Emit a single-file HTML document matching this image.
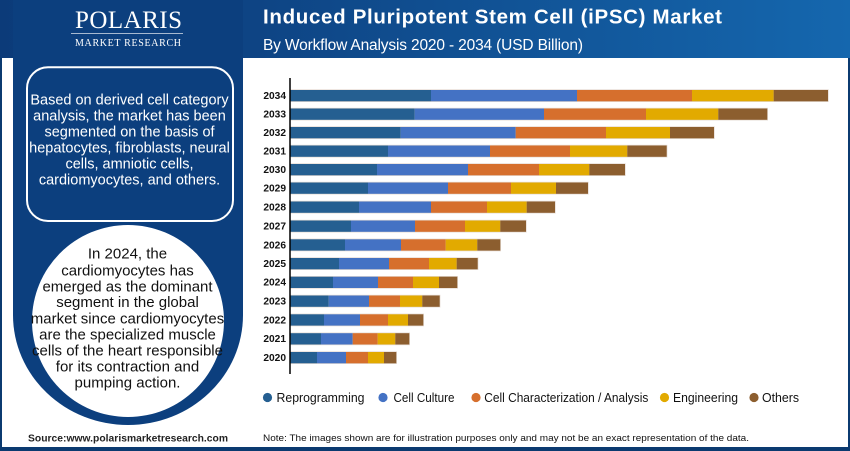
<!DOCTYPE html>
<html><head><meta charset="utf-8"><style>
html,body{margin:0;padding:0;background:#fff;}
svg{display:block;}
</style></head><body>
<svg width="850" height="451" viewBox="0 0 850 451" xmlns="http://www.w3.org/2000/svg">
<defs>
<linearGradient id="hg" x1="0" y1="0" x2="1" y2="0">
<stop offset="0" stop-color="#0c3b79"/>
<stop offset="0.3" stop-color="#0e4484"/>
<stop offset="1" stop-color="#1567ae"/>
</linearGradient>
</defs>
<rect x="0" y="0" width="850" height="451" fill="#0b3a70"/>
<rect x="2" y="2" width="846" height="445" fill="#fff"/>
<rect x="0" y="0" width="850" height="58" fill="url(#hg)"/>
<path d="M13,0 H243 V315 A115,110 0 0 1 128,425 A115,110 0 0 1 13,315 Z" fill="#0c3f7e"/>
<text x="75" y="28" font-family="Liberation Serif, serif" font-size="25" fill="#fff" textLength="107" lengthAdjust="spacing">POLARIS</text>
<line x1="71" y1="33.5" x2="183" y2="33.5" stroke="#fff" stroke-width="0.8" opacity="0.85"/>
<text x="75" y="46" font-family="Liberation Serif, serif" font-size="10" fill="#fff" textLength="106" lengthAdjust="spacing">MARKET RESEARCH</text>
<text x="263" y="23.3" font-family="Liberation Sans, sans-serif" font-weight="bold" font-size="20.5" fill="#fff" textLength="459" lengthAdjust="spacing">Induced Pluripotent Stem Cell (iPSC) Market</text>
<text x="263" y="50" font-family="Liberation Sans, sans-serif" font-size="15.5" fill="#fff" textLength="320" lengthAdjust="spacing">By Workflow Analysis 2020 - 2034 (USD Billion)</text>
<rect x="27" y="67.3" width="206" height="153.7" rx="21" ry="21" fill="none" stroke="#fff" stroke-width="2"/>
<g font-family="Liberation Sans, sans-serif" font-size="14.5" fill="#fff" text-anchor="middle">
<text x="129.5" y="104.5">Based on derived cell category</text>
<text x="129.5" y="120.5">analysis, the market has been</text>
<text x="129.5" y="136.5">segmented on the basis of</text>
<text x="129.5" y="152.5">hepatocytes, fibroblasts, neural</text>
<text x="129.5" y="168.5">cells, amniotic cells,</text>
<text x="129.5" y="184.5">cardiomyocytes, and others.</text>
</g>
<circle cx="128" cy="321" r="96" fill="#fff"/>
<g font-family="Liberation Sans, sans-serif" font-size="15" fill="#111" text-anchor="middle">
<text x="127.5" y="258.6">In 2024, the</text>
<text x="127.5" y="275.3">cardiomyocytes has</text>
<text x="127.5" y="291.3">emerged as the dominant</text>
<text x="127.5" y="307">segment in the global</text>
<text x="127.5" y="323.6">market since cardiomyocytes</text>
<text x="127.5" y="339.6">are the specialized muscle</text>
<text x="127.5" y="355.3">cells of the heart responsible</text>
<text x="127.5" y="371.3">for its contraction and</text>
<text x="127.5" y="387.6">pumping action.</text>
</g>
<text x="28" y="441.7" font-family="Liberation Sans, sans-serif" font-weight="bold" font-size="10.3" fill="#222" textLength="200" lengthAdjust="spacing">Source:www.polarismarketresearch.com</text>

<g id="bars">
<!-- 2034 -->
<rect x="289.5" y="89.3" width="539.2" height="12.7" fill="#e6dcd4"/>
<rect x="290" y="90" width="141" height="11.3" fill="#255f91"/><rect x="431" y="90" width="146" height="11.3" fill="#4472c4"/><rect x="577" y="90" width="115" height="11.3" fill="#d66f2d"/><rect x="692" y="90" width="81.7" height="11.3" fill="#e2aa00"/><rect x="773.7" y="90" width="54.3" height="11.3" fill="#8c5e2f"/>
<!-- 2033 -->
<rect x="289.5" y="107.8" width="478.5" height="12.7" fill="#e6dcd4"/>
<rect x="290" y="108.5" width="124.7" height="11.3" fill="#255f91"/><rect x="414.7" y="108.5" width="129.3" height="11.3" fill="#4472c4"/><rect x="544" y="108.5" width="102" height="11.3" fill="#d66f2d"/><rect x="646" y="108.5" width="72.3" height="11.3" fill="#e2aa00"/><rect x="718.3" y="108.5" width="49" height="11.3" fill="#8c5e2f"/>
<!-- 2032 -->
<rect x="289.5" y="126.3" width="425.2" height="12.7" fill="#e6dcd4"/>
<rect x="290" y="127" width="110.7" height="11.3" fill="#255f91"/><rect x="400.7" y="127" width="115" height="11.3" fill="#4472c4"/><rect x="515.7" y="127" width="90.3" height="11.3" fill="#d66f2d"/><rect x="606" y="127" width="64" height="11.3" fill="#e2aa00"/><rect x="670" y="127" width="44" height="11.3" fill="#8c5e2f"/>
<!-- 2031 -->
<rect x="289.5" y="144.8" width="377.9" height="12.7" fill="#e6dcd4"/>
<rect x="290" y="145.5" width="98" height="11.3" fill="#255f91"/><rect x="388" y="145.5" width="102" height="11.3" fill="#4472c4"/><rect x="490" y="145.5" width="80" height="11.3" fill="#d66f2d"/><rect x="570" y="145.5" width="57.3" height="11.3" fill="#e2aa00"/><rect x="627.3" y="145.5" width="39.4" height="11.3" fill="#8c5e2f"/>
<!-- 2030 -->
<rect x="289.5" y="163.3" width="336.2" height="12.7" fill="#e6dcd4"/>
<rect x="290" y="164" width="87" height="11.3" fill="#255f91"/><rect x="377" y="164" width="91" height="11.3" fill="#4472c4"/><rect x="468" y="164" width="71" height="11.3" fill="#d66f2d"/><rect x="539" y="164" width="50.3" height="11.3" fill="#e2aa00"/><rect x="589.3" y="164" width="35.7" height="11.3" fill="#8c5e2f"/>
<!-- 2029 -->
<rect x="289.5" y="181.8" width="299.2" height="12.7" fill="#e6dcd4"/>
<rect x="290" y="182.5" width="78" height="11.3" fill="#255f91"/><rect x="368" y="182.5" width="80" height="11.3" fill="#4472c4"/><rect x="448" y="182.5" width="63" height="11.3" fill="#d66f2d"/><rect x="511" y="182.5" width="45" height="11.3" fill="#e2aa00"/><rect x="556" y="182.5" width="32" height="11.3" fill="#8c5e2f"/>
<!-- 2028 -->
<rect x="289.5" y="200.8" width="266.2" height="12.7" fill="#e6dcd4"/>
<rect x="290" y="201.5" width="69" height="11.3" fill="#255f91"/><rect x="359" y="201.5" width="72" height="11.3" fill="#4472c4"/><rect x="431" y="201.5" width="56" height="11.3" fill="#d66f2d"/><rect x="487" y="201.5" width="39.7" height="11.3" fill="#e2aa00"/><rect x="526.7" y="201.5" width="28.3" height="11.3" fill="#8c5e2f"/>
<!-- 2027 -->
<rect x="289.5" y="219.8" width="237.2" height="12.7" fill="#e6dcd4"/>
<rect x="290" y="220.5" width="61" height="11.3" fill="#255f91"/><rect x="351" y="220.5" width="64" height="11.3" fill="#4472c4"/><rect x="415" y="220.5" width="50" height="11.3" fill="#d66f2d"/><rect x="465" y="220.5" width="35.3" height="11.3" fill="#e2aa00"/><rect x="500.3" y="220.5" width="25.7" height="11.3" fill="#8c5e2f"/>
<!-- 2026 -->
<rect x="289.5" y="238.6" width="211.5" height="12.7" fill="#e6dcd4"/>
<rect x="290" y="239.3" width="55" height="11.3" fill="#255f91"/><rect x="345" y="239.3" width="56" height="11.3" fill="#4472c4"/><rect x="401" y="239.3" width="44.7" height="11.3" fill="#d66f2d"/><rect x="445.7" y="239.3" width="31.6" height="11.3" fill="#e2aa00"/><rect x="477.3" y="239.3" width="23" height="11.3" fill="#8c5e2f"/>
<!-- 2025 -->
<rect x="289.5" y="257.3" width="188.9" height="12.7" fill="#e6dcd4"/>
<rect x="290" y="258" width="49" height="11.3" fill="#255f91"/><rect x="339" y="258" width="50" height="11.3" fill="#4472c4"/><rect x="389" y="258" width="40" height="11.3" fill="#d66f2d"/><rect x="429" y="258" width="27.7" height="11.3" fill="#e2aa00"/><rect x="456.7" y="258" width="21" height="11.3" fill="#8c5e2f"/>
<!-- 2024 -->
<rect x="289.5" y="276" width="168.5" height="12.7" fill="#e6dcd4"/>
<rect x="290" y="276.7" width="43" height="11.3" fill="#255f91"/><rect x="333" y="276.7" width="45" height="11.3" fill="#4472c4"/><rect x="378" y="276.7" width="35" height="11.3" fill="#d66f2d"/><rect x="413" y="276.7" width="26" height="11.3" fill="#e2aa00"/><rect x="439" y="276.7" width="18.3" height="11.3" fill="#8c5e2f"/>
<!-- 2023 -->
<rect x="289.5" y="294.8" width="150.9" height="12.7" fill="#e6dcd4"/>
<rect x="290" y="295.5" width="38.7" height="11.3" fill="#255f91"/><rect x="328.7" y="295.5" width="40.3" height="11.3" fill="#4472c4"/><rect x="369" y="295.5" width="31" height="11.3" fill="#d66f2d"/><rect x="400" y="295.5" width="22.3" height="11.3" fill="#e2aa00"/><rect x="422.3" y="295.5" width="17.4" height="11.3" fill="#8c5e2f"/>
<!-- 2022 -->
<rect x="289.5" y="313.6" width="134.5" height="12.7" fill="#e6dcd4"/>
<rect x="290" y="314.3" width="34" height="11.3" fill="#255f91"/><rect x="324" y="314.3" width="36" height="11.3" fill="#4472c4"/><rect x="360" y="314.3" width="28" height="11.3" fill="#d66f2d"/><rect x="388" y="314.3" width="20" height="11.3" fill="#e2aa00"/><rect x="408" y="314.3" width="15.3" height="11.3" fill="#8c5e2f"/>
<!-- 2021 -->
<rect x="289.5" y="332.5" width="120.5" height="12.7" fill="#e6dcd4"/>
<rect x="290" y="333.2" width="31" height="11.3" fill="#255f91"/><rect x="321" y="333.2" width="31.7" height="11.3" fill="#4472c4"/><rect x="352.7" y="333.2" width="25" height="11.3" fill="#d66f2d"/><rect x="377.7" y="333.2" width="17.6" height="11.3" fill="#e2aa00"/><rect x="395.3" y="333.2" width="14" height="11.3" fill="#8c5e2f"/>
<!-- 2020 -->
<rect x="289.5" y="351.3" width="107.5" height="12.7" fill="#e6dcd4"/>
<rect x="290" y="352" width="27" height="11.3" fill="#255f91"/><rect x="317" y="352" width="29" height="11.3" fill="#4472c4"/><rect x="346" y="352" width="22" height="11.3" fill="#d66f2d"/><rect x="368" y="352" width="16" height="11.3" fill="#e2aa00"/><rect x="384" y="352" width="12.3" height="11.3" fill="#8c5e2f"/>
</g>
<line x1="290" y1="78" x2="290" y2="374" stroke="#000" stroke-width="1.5"/>

<g font-family="Liberation Sans, sans-serif" font-weight="bold" font-size="10.2" fill="#111" text-anchor="end">
<text x="286" y="99">2034</text>
<text x="286" y="117.5">2033</text>
<text x="286" y="136">2032</text>
<text x="286" y="154.5">2031</text>
<text x="286" y="173">2030</text>
<text x="286" y="191.5">2029</text>
<text x="286" y="210.5">2028</text>
<text x="286" y="229.5">2027</text>
<text x="286" y="248.3">2026</text>
<text x="286" y="267">2025</text>
<text x="286" y="285.7">2024</text>
<text x="286" y="304.5">2023</text>
<text x="286" y="323.3">2022</text>
<text x="286" y="342.2">2021</text>
<text x="286" y="361">2020</text>
</g>

<g font-family="Liberation Sans, sans-serif" font-size="13" fill="#111">
<circle cx="267.5" cy="397.5" r="4.6" fill="#255f91"/>
<text x="276.5" y="402" textLength="88" lengthAdjust="spacingAndGlyphs">Reprogramming</text>
<circle cx="383" cy="397.5" r="4.6" fill="#4472c4"/>
<text x="393.5" y="402" textLength="61" lengthAdjust="spacingAndGlyphs">Cell Culture</text>
<circle cx="476" cy="397.5" r="4.6" fill="#d66f2d"/>
<text x="484.3" y="402" textLength="164" lengthAdjust="spacingAndGlyphs">Cell Characterization / Analysis</text>
<circle cx="664.5" cy="397.5" r="4.6" fill="#e2aa00"/>
<text x="673" y="402" textLength="65" lengthAdjust="spacingAndGlyphs">Engineering</text>
<circle cx="754" cy="397.5" r="4.6" fill="#8c5e2f"/>
<text x="762" y="402" textLength="37" lengthAdjust="spacingAndGlyphs">Others</text>
</g>
<text x="263" y="441" font-family="Liberation Sans, sans-serif" font-size="9.6" fill="#111" textLength="486" lengthAdjust="spacingAndGlyphs">Note: The images shown are for illustration purposes only and may not be an exact representation of the data.</text>
</svg>
</body></html>
